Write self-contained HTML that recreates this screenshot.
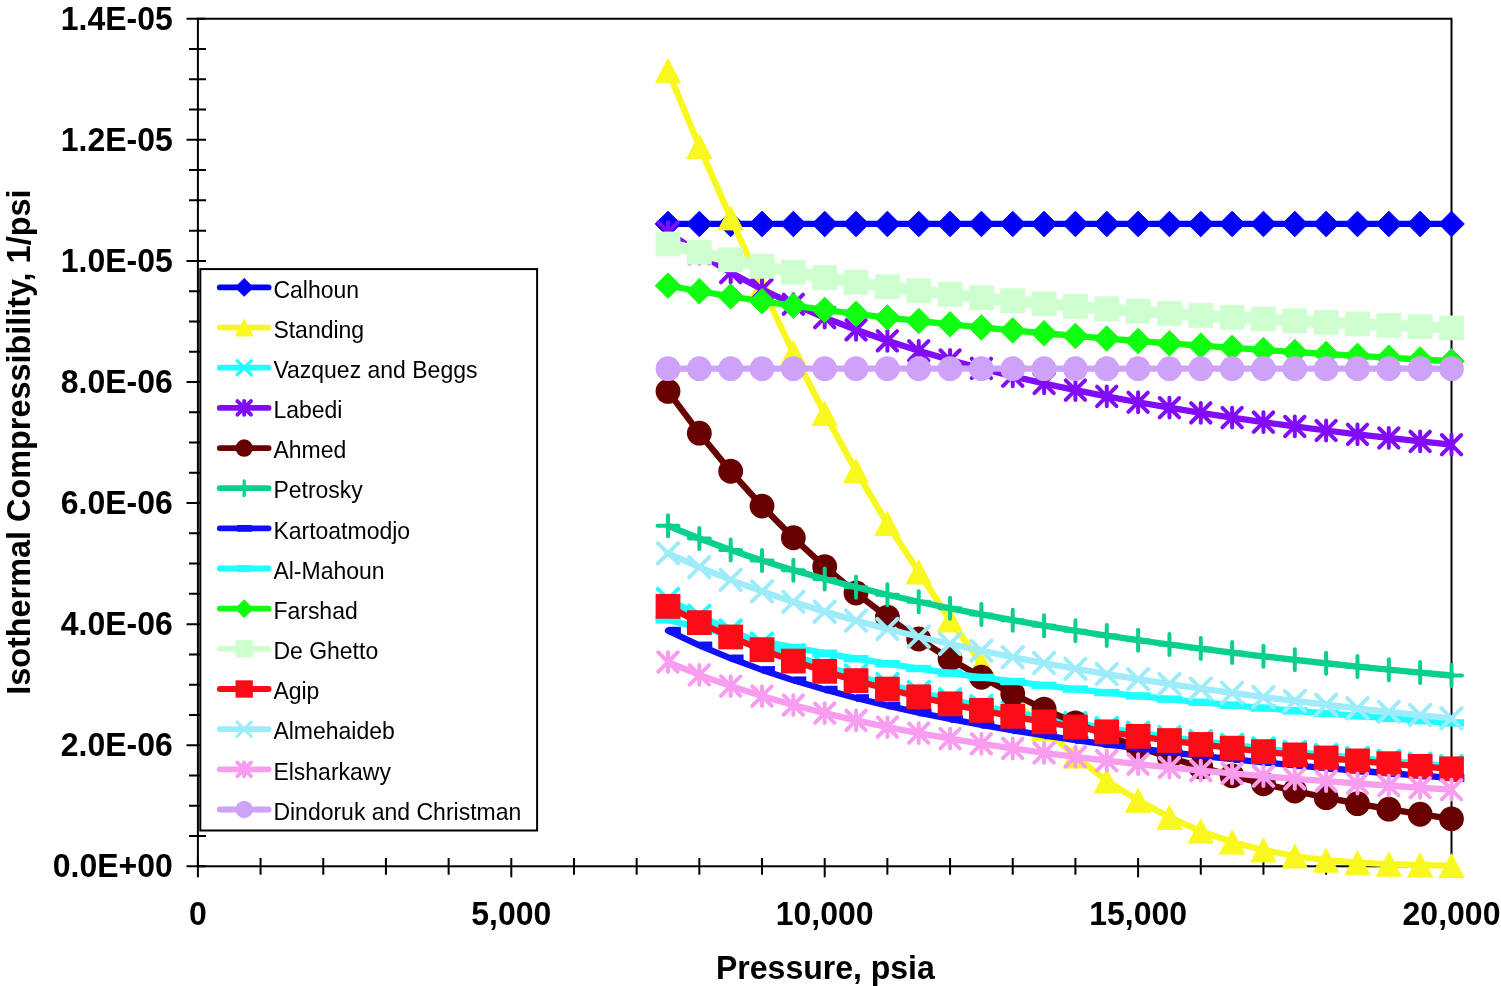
<!DOCTYPE html>
<html><head><meta charset="utf-8"><title>Isothermal Compressibility</title>
<style>
html,body{margin:0;padding:0;background:#fff;}
body{width:1501px;height:986px;overflow:hidden;}
svg{display:block;will-change:transform;}
.b{font-family:"Liberation Sans",sans-serif;font-weight:bold;font-size:32px;fill:#000;}
.r{font-family:"Liberation Sans",sans-serif;font-size:23px;fill:#000;}
</style></head>
<body>
<svg width="1501" height="986" viewBox="0 0 1501 986">
<rect width="1501" height="986" fill="#fff"/>
<rect x="197.90" y="18.74" width="1253.60" height="847.56" fill="none" stroke="#000" stroke-width="2"/>
<path d="M186.5 866.30H206M189 836.03H206M189 805.76H206M189 775.49H206M186.5 745.22H206M189 714.95H206M189 684.68H206M189 654.41H206M186.5 624.14H206M189 593.87H206M189 563.60H206M189 533.33H206M186.5 503.06H206M189 472.79H206M189 442.52H206M189 412.25H206M186.5 381.98H206M189 351.71H206M189 321.44H206M189 291.17H206M186.5 260.90H206M189 230.63H206M189 200.36H206M189 170.09H206M186.5 139.82H206M189 109.55H206M189 79.28H206M189 49.01H206M186.5 18.74H206M197.90 858V877.3M260.58 858V874.7M323.26 858V874.7M385.94 858V874.7M448.62 858V874.7M511.30 858V877.3M573.98 858V874.7M636.66 858V874.7M699.34 858V874.7M762.02 858V874.7M824.70 858V877.3M887.38 858V874.7M950.06 858V874.7M1012.74 858V874.7M1075.42 858V874.7M1138.10 858V877.3M1200.78 858V874.7M1263.46 858V874.7M1326.14 858V874.7M1388.82 858V874.7M1451.50 858V877.3" stroke="#000" stroke-width="2" fill="none"/>
<text transform="translate(172.8 877.30) scale(1 1.062)" text-anchor="end" class="b">0.0E+00</text>
<text transform="translate(172.8 756.22) scale(1 1.062)" text-anchor="end" class="b">2.0E-06</text>
<text transform="translate(172.8 635.14) scale(1 1.062)" text-anchor="end" class="b">4.0E-06</text>
<text transform="translate(172.8 514.06) scale(1 1.062)" text-anchor="end" class="b">6.0E-06</text>
<text transform="translate(172.8 392.98) scale(1 1.062)" text-anchor="end" class="b">8.0E-06</text>
<text transform="translate(172.8 271.90) scale(1 1.062)" text-anchor="end" class="b">1.0E-05</text>
<text transform="translate(172.8 150.82) scale(1 1.062)" text-anchor="end" class="b">1.2E-05</text>
<text transform="translate(172.8 29.74) scale(1 1.062)" text-anchor="end" class="b">1.4E-05</text>
<text transform="translate(197.90 924.9) scale(1 1.062)" text-anchor="middle" class="b">0</text>
<text transform="translate(511.30 924.9) scale(1 1.062)" text-anchor="middle" class="b">5,000</text>
<text transform="translate(824.70 924.9) scale(1 1.062)" text-anchor="middle" class="b">10,000</text>
<text transform="translate(1138.10 924.9) scale(1 1.062)" text-anchor="middle" class="b">15,000</text>
<text transform="translate(1451.50 924.9) scale(1 1.062)" text-anchor="middle" class="b">20,000</text>
<text transform="translate(825.4 979.4) scale(1 1.062)" text-anchor="middle" class="b">Pressure, psia</text>
<text transform="translate(29.6 442.2) rotate(-90) scale(1.013 1.062)" x="0" y="0" text-anchor="middle" class="b">Isothermal Compressibility, 1/psi</text>
<polyline points="668.00,223.97 699.34,223.97 730.68,223.97 762.02,223.97 793.36,223.97 824.70,223.97 856.04,223.97 887.38,223.97 918.72,223.97 950.06,223.97 981.40,223.97 1012.74,223.97 1044.08,223.97 1075.42,223.97 1106.76,223.97 1138.10,223.97 1169.44,223.97 1200.78,223.97 1232.12,223.97 1263.46,223.97 1294.80,223.97 1326.14,223.97 1357.48,223.97 1388.82,223.97 1420.16,223.97 1451.50,223.97" fill="none" stroke="#0000F8" stroke-width="6.3" stroke-linejoin="round" stroke-linecap="round"/>
<path d="M668.00 211.17L680.80 223.97L668.00 236.77L655.20 223.97Z" fill="#0000F8" stroke="#0000F8" stroke-width="1" stroke-linejoin="round"/>
<path d="M699.34 211.17L712.14 223.97L699.34 236.77L686.54 223.97Z" fill="#0000F8" stroke="#0000F8" stroke-width="1" stroke-linejoin="round"/>
<path d="M730.68 211.17L743.48 223.97L730.68 236.77L717.88 223.97Z" fill="#0000F8" stroke="#0000F8" stroke-width="1" stroke-linejoin="round"/>
<path d="M762.02 211.17L774.82 223.97L762.02 236.77L749.22 223.97Z" fill="#0000F8" stroke="#0000F8" stroke-width="1" stroke-linejoin="round"/>
<path d="M793.36 211.17L806.16 223.97L793.36 236.77L780.56 223.97Z" fill="#0000F8" stroke="#0000F8" stroke-width="1" stroke-linejoin="round"/>
<path d="M824.70 211.17L837.50 223.97L824.70 236.77L811.90 223.97Z" fill="#0000F8" stroke="#0000F8" stroke-width="1" stroke-linejoin="round"/>
<path d="M856.04 211.17L868.84 223.97L856.04 236.77L843.24 223.97Z" fill="#0000F8" stroke="#0000F8" stroke-width="1" stroke-linejoin="round"/>
<path d="M887.38 211.17L900.18 223.97L887.38 236.77L874.58 223.97Z" fill="#0000F8" stroke="#0000F8" stroke-width="1" stroke-linejoin="round"/>
<path d="M918.72 211.17L931.52 223.97L918.72 236.77L905.92 223.97Z" fill="#0000F8" stroke="#0000F8" stroke-width="1" stroke-linejoin="round"/>
<path d="M950.06 211.17L962.86 223.97L950.06 236.77L937.26 223.97Z" fill="#0000F8" stroke="#0000F8" stroke-width="1" stroke-linejoin="round"/>
<path d="M981.40 211.17L994.20 223.97L981.40 236.77L968.60 223.97Z" fill="#0000F8" stroke="#0000F8" stroke-width="1" stroke-linejoin="round"/>
<path d="M1012.74 211.17L1025.54 223.97L1012.74 236.77L999.94 223.97Z" fill="#0000F8" stroke="#0000F8" stroke-width="1" stroke-linejoin="round"/>
<path d="M1044.08 211.17L1056.88 223.97L1044.08 236.77L1031.28 223.97Z" fill="#0000F8" stroke="#0000F8" stroke-width="1" stroke-linejoin="round"/>
<path d="M1075.42 211.17L1088.22 223.97L1075.42 236.77L1062.62 223.97Z" fill="#0000F8" stroke="#0000F8" stroke-width="1" stroke-linejoin="round"/>
<path d="M1106.76 211.17L1119.56 223.97L1106.76 236.77L1093.96 223.97Z" fill="#0000F8" stroke="#0000F8" stroke-width="1" stroke-linejoin="round"/>
<path d="M1138.10 211.17L1150.90 223.97L1138.10 236.77L1125.30 223.97Z" fill="#0000F8" stroke="#0000F8" stroke-width="1" stroke-linejoin="round"/>
<path d="M1169.44 211.17L1182.24 223.97L1169.44 236.77L1156.64 223.97Z" fill="#0000F8" stroke="#0000F8" stroke-width="1" stroke-linejoin="round"/>
<path d="M1200.78 211.17L1213.58 223.97L1200.78 236.77L1187.98 223.97Z" fill="#0000F8" stroke="#0000F8" stroke-width="1" stroke-linejoin="round"/>
<path d="M1232.12 211.17L1244.92 223.97L1232.12 236.77L1219.32 223.97Z" fill="#0000F8" stroke="#0000F8" stroke-width="1" stroke-linejoin="round"/>
<path d="M1263.46 211.17L1276.26 223.97L1263.46 236.77L1250.66 223.97Z" fill="#0000F8" stroke="#0000F8" stroke-width="1" stroke-linejoin="round"/>
<path d="M1294.80 211.17L1307.60 223.97L1294.80 236.77L1282.00 223.97Z" fill="#0000F8" stroke="#0000F8" stroke-width="1" stroke-linejoin="round"/>
<path d="M1326.14 211.17L1338.94 223.97L1326.14 236.77L1313.34 223.97Z" fill="#0000F8" stroke="#0000F8" stroke-width="1" stroke-linejoin="round"/>
<path d="M1357.48 211.17L1370.28 223.97L1357.48 236.77L1344.68 223.97Z" fill="#0000F8" stroke="#0000F8" stroke-width="1" stroke-linejoin="round"/>
<path d="M1388.82 211.17L1401.62 223.97L1388.82 236.77L1376.02 223.97Z" fill="#0000F8" stroke="#0000F8" stroke-width="1" stroke-linejoin="round"/>
<path d="M1420.16 211.17L1432.96 223.97L1420.16 236.77L1407.36 223.97Z" fill="#0000F8" stroke="#0000F8" stroke-width="1" stroke-linejoin="round"/>
<path d="M1451.50 211.17L1464.30 223.97L1451.50 236.77L1438.70 223.97Z" fill="#0000F8" stroke="#0000F8" stroke-width="1" stroke-linejoin="round"/>
<polyline points="668.00,70.80 699.34,146.48 730.68,217.92 762.02,286.93 793.36,352.92 824.70,413.46 856.04,470.97 887.38,523.64 918.72,572.08 950.06,619.90 981.40,664.10 1012.74,699.21 1044.08,728.87 1075.42,756.12 1106.76,780.94 1138.10,800.31 1169.44,817.26 1200.78,831.19 1232.12,842.08 1263.46,849.95 1294.80,856.01 1326.14,860.25 1357.48,862.67 1388.82,864.18 1420.16,865.09 1451.50,865.69" fill="none" stroke="#F8F81E" stroke-width="6.3" stroke-linejoin="round" stroke-linecap="round"/>
<path d="M668.00 58.80L680.50 82.80L655.50 82.80Z" fill="#F8F81E" stroke="#F8F81E" stroke-width="1" stroke-linejoin="round"/>
<path d="M699.34 134.48L711.84 158.48L686.84 158.48Z" fill="#F8F81E" stroke="#F8F81E" stroke-width="1" stroke-linejoin="round"/>
<path d="M730.68 205.92L743.18 229.92L718.18 229.92Z" fill="#F8F81E" stroke="#F8F81E" stroke-width="1" stroke-linejoin="round"/>
<path d="M762.02 274.93L774.52 298.93L749.52 298.93Z" fill="#F8F81E" stroke="#F8F81E" stroke-width="1" stroke-linejoin="round"/>
<path d="M793.36 340.92L805.86 364.92L780.86 364.92Z" fill="#F8F81E" stroke="#F8F81E" stroke-width="1" stroke-linejoin="round"/>
<path d="M824.70 401.46L837.20 425.46L812.20 425.46Z" fill="#F8F81E" stroke="#F8F81E" stroke-width="1" stroke-linejoin="round"/>
<path d="M856.04 458.97L868.54 482.97L843.54 482.97Z" fill="#F8F81E" stroke="#F8F81E" stroke-width="1" stroke-linejoin="round"/>
<path d="M887.38 511.64L899.88 535.64L874.88 535.64Z" fill="#F8F81E" stroke="#F8F81E" stroke-width="1" stroke-linejoin="round"/>
<path d="M918.72 560.08L931.22 584.08L906.22 584.08Z" fill="#F8F81E" stroke="#F8F81E" stroke-width="1" stroke-linejoin="round"/>
<path d="M950.06 607.90L962.56 631.90L937.56 631.90Z" fill="#F8F81E" stroke="#F8F81E" stroke-width="1" stroke-linejoin="round"/>
<path d="M981.40 652.10L993.90 676.10L968.90 676.10Z" fill="#F8F81E" stroke="#F8F81E" stroke-width="1" stroke-linejoin="round"/>
<path d="M1012.74 687.21L1025.24 711.21L1000.24 711.21Z" fill="#F8F81E" stroke="#F8F81E" stroke-width="1" stroke-linejoin="round"/>
<path d="M1044.08 716.87L1056.58 740.87L1031.58 740.87Z" fill="#F8F81E" stroke="#F8F81E" stroke-width="1" stroke-linejoin="round"/>
<path d="M1075.42 744.12L1087.92 768.12L1062.92 768.12Z" fill="#F8F81E" stroke="#F8F81E" stroke-width="1" stroke-linejoin="round"/>
<path d="M1106.76 768.94L1119.26 792.94L1094.26 792.94Z" fill="#F8F81E" stroke="#F8F81E" stroke-width="1" stroke-linejoin="round"/>
<path d="M1138.10 788.31L1150.60 812.31L1125.60 812.31Z" fill="#F8F81E" stroke="#F8F81E" stroke-width="1" stroke-linejoin="round"/>
<path d="M1169.44 805.26L1181.94 829.26L1156.94 829.26Z" fill="#F8F81E" stroke="#F8F81E" stroke-width="1" stroke-linejoin="round"/>
<path d="M1200.78 819.19L1213.28 843.19L1188.28 843.19Z" fill="#F8F81E" stroke="#F8F81E" stroke-width="1" stroke-linejoin="round"/>
<path d="M1232.12 830.08L1244.62 854.08L1219.62 854.08Z" fill="#F8F81E" stroke="#F8F81E" stroke-width="1" stroke-linejoin="round"/>
<path d="M1263.46 837.95L1275.96 861.95L1250.96 861.95Z" fill="#F8F81E" stroke="#F8F81E" stroke-width="1" stroke-linejoin="round"/>
<path d="M1294.80 844.01L1307.30 868.01L1282.30 868.01Z" fill="#F8F81E" stroke="#F8F81E" stroke-width="1" stroke-linejoin="round"/>
<path d="M1326.14 848.25L1338.64 872.25L1313.64 872.25Z" fill="#F8F81E" stroke="#F8F81E" stroke-width="1" stroke-linejoin="round"/>
<path d="M1357.48 850.67L1369.98 874.67L1344.98 874.67Z" fill="#F8F81E" stroke="#F8F81E" stroke-width="1" stroke-linejoin="round"/>
<path d="M1388.82 852.18L1401.32 876.18L1376.32 876.18Z" fill="#F8F81E" stroke="#F8F81E" stroke-width="1" stroke-linejoin="round"/>
<path d="M1420.16 853.09L1432.66 877.09L1407.66 877.09Z" fill="#F8F81E" stroke="#F8F81E" stroke-width="1" stroke-linejoin="round"/>
<path d="M1451.50 853.69L1464.00 877.69L1439.00 877.69Z" fill="#F8F81E" stroke="#F8F81E" stroke-width="1" stroke-linejoin="round"/>
<polyline points="668.00,599.12 699.34,615.82 730.68,630.55 762.02,643.65 793.36,655.37 824.70,665.91 856.04,675.45 887.38,684.13 918.72,692.05 950.06,699.31 981.40,705.99 1012.74,712.16 1044.08,717.86 1075.42,723.17 1106.76,728.10 1138.10,732.71 1169.44,737.02 1200.78,741.06 1232.12,744.85 1263.46,748.43 1294.80,751.79 1326.14,754.97 1357.48,757.98 1388.82,760.83 1420.16,763.54 1451.50,766.11" fill="none" stroke="#1EFFFF" stroke-width="6.3" stroke-linejoin="round" stroke-linecap="round"/>
<path d="M657.80 588.92L678.20 609.32M678.20 588.92L657.80 609.32" stroke="#1EFFFF" stroke-width="4.00" stroke-linecap="round" fill="none"/>
<path d="M689.14 605.62L709.54 626.02M709.54 605.62L689.14 626.02" stroke="#1EFFFF" stroke-width="4.00" stroke-linecap="round" fill="none"/>
<path d="M720.48 620.35L740.88 640.75M740.88 620.35L720.48 640.75" stroke="#1EFFFF" stroke-width="4.00" stroke-linecap="round" fill="none"/>
<path d="M751.82 633.45L772.22 653.85M772.22 633.45L751.82 653.85" stroke="#1EFFFF" stroke-width="4.00" stroke-linecap="round" fill="none"/>
<path d="M783.16 645.17L803.56 665.57M803.56 645.17L783.16 665.57" stroke="#1EFFFF" stroke-width="4.00" stroke-linecap="round" fill="none"/>
<path d="M814.50 655.71L834.90 676.11M834.90 655.71L814.50 676.11" stroke="#1EFFFF" stroke-width="4.00" stroke-linecap="round" fill="none"/>
<path d="M845.84 665.25L866.24 685.65M866.24 665.25L845.84 685.65" stroke="#1EFFFF" stroke-width="4.00" stroke-linecap="round" fill="none"/>
<path d="M877.18 673.93L897.58 694.33M897.58 673.93L877.18 694.33" stroke="#1EFFFF" stroke-width="4.00" stroke-linecap="round" fill="none"/>
<path d="M908.52 681.85L928.92 702.25M928.92 681.85L908.52 702.25" stroke="#1EFFFF" stroke-width="4.00" stroke-linecap="round" fill="none"/>
<path d="M939.86 689.11L960.26 709.51M960.26 689.11L939.86 709.51" stroke="#1EFFFF" stroke-width="4.00" stroke-linecap="round" fill="none"/>
<path d="M971.20 695.79L991.60 716.19M991.60 695.79L971.20 716.19" stroke="#1EFFFF" stroke-width="4.00" stroke-linecap="round" fill="none"/>
<path d="M1002.54 701.96L1022.94 722.36M1022.94 701.96L1002.54 722.36" stroke="#1EFFFF" stroke-width="4.00" stroke-linecap="round" fill="none"/>
<path d="M1033.88 707.66L1054.28 728.06M1054.28 707.66L1033.88 728.06" stroke="#1EFFFF" stroke-width="4.00" stroke-linecap="round" fill="none"/>
<path d="M1065.22 712.97L1085.62 733.37M1085.62 712.97L1065.22 733.37" stroke="#1EFFFF" stroke-width="4.00" stroke-linecap="round" fill="none"/>
<path d="M1096.56 717.90L1116.96 738.30M1116.96 717.90L1096.56 738.30" stroke="#1EFFFF" stroke-width="4.00" stroke-linecap="round" fill="none"/>
<path d="M1127.90 722.51L1148.30 742.91M1148.30 722.51L1127.90 742.91" stroke="#1EFFFF" stroke-width="4.00" stroke-linecap="round" fill="none"/>
<path d="M1159.24 726.82L1179.64 747.22M1179.64 726.82L1159.24 747.22" stroke="#1EFFFF" stroke-width="4.00" stroke-linecap="round" fill="none"/>
<path d="M1190.58 730.86L1210.98 751.26M1210.98 730.86L1190.58 751.26" stroke="#1EFFFF" stroke-width="4.00" stroke-linecap="round" fill="none"/>
<path d="M1221.92 734.65L1242.32 755.05M1242.32 734.65L1221.92 755.05" stroke="#1EFFFF" stroke-width="4.00" stroke-linecap="round" fill="none"/>
<path d="M1253.26 738.23L1273.66 758.63M1273.66 738.23L1253.26 758.63" stroke="#1EFFFF" stroke-width="4.00" stroke-linecap="round" fill="none"/>
<path d="M1284.60 741.59L1305.00 761.99M1305.00 741.59L1284.60 761.99" stroke="#1EFFFF" stroke-width="4.00" stroke-linecap="round" fill="none"/>
<path d="M1315.94 744.77L1336.34 765.17M1336.34 744.77L1315.94 765.17" stroke="#1EFFFF" stroke-width="4.00" stroke-linecap="round" fill="none"/>
<path d="M1347.28 747.78L1367.68 768.18M1367.68 747.78L1347.28 768.18" stroke="#1EFFFF" stroke-width="4.00" stroke-linecap="round" fill="none"/>
<path d="M1378.62 750.63L1399.02 771.03M1399.02 750.63L1378.62 771.03" stroke="#1EFFFF" stroke-width="4.00" stroke-linecap="round" fill="none"/>
<path d="M1409.96 753.34L1430.36 773.74M1430.36 753.34L1409.96 773.74" stroke="#1EFFFF" stroke-width="4.00" stroke-linecap="round" fill="none"/>
<path d="M1441.30 755.91L1461.70 776.31M1461.70 755.91L1441.30 776.31" stroke="#1EFFFF" stroke-width="4.00" stroke-linecap="round" fill="none"/>
<polyline points="668.00,232.15 699.34,253.67 730.68,272.57 762.02,289.31 793.36,304.25 824.70,317.66 856.04,329.77 887.38,340.77 918.72,350.80 950.06,359.98 981.40,368.43 1012.74,376.23 1044.08,383.45 1075.42,390.16 1106.76,396.40 1138.10,402.24 1169.44,407.70 1200.78,412.82 1232.12,417.64 1263.46,422.17 1294.80,426.45 1326.14,430.50 1357.48,434.34 1388.82,437.97 1420.16,441.43 1451.50,444.71" fill="none" stroke="#820CFA" stroke-width="6.3" stroke-linejoin="round" stroke-linecap="round"/>
<path d="M658.30 222.45L677.70 241.85M677.70 222.45L658.30 241.85M668.00 222.25L668.00 242.05" stroke="#820CFA" stroke-width="4.00" stroke-linecap="round" fill="none"/>
<path d="M689.64 243.97L709.04 263.37M709.04 243.97L689.64 263.37M699.34 243.77L699.34 263.57" stroke="#820CFA" stroke-width="4.00" stroke-linecap="round" fill="none"/>
<path d="M720.98 262.87L740.38 282.27M740.38 262.87L720.98 282.27M730.68 262.67L730.68 282.47" stroke="#820CFA" stroke-width="4.00" stroke-linecap="round" fill="none"/>
<path d="M752.32 279.61L771.72 299.01M771.72 279.61L752.32 299.01M762.02 279.41L762.02 299.21" stroke="#820CFA" stroke-width="4.00" stroke-linecap="round" fill="none"/>
<path d="M783.66 294.55L803.06 313.95M803.06 294.55L783.66 313.95M793.36 294.35L793.36 314.15" stroke="#820CFA" stroke-width="4.00" stroke-linecap="round" fill="none"/>
<path d="M815.00 307.96L834.40 327.36M834.40 307.96L815.00 327.36M824.70 307.76L824.70 327.56" stroke="#820CFA" stroke-width="4.00" stroke-linecap="round" fill="none"/>
<path d="M846.34 320.07L865.74 339.47M865.74 320.07L846.34 339.47M856.04 319.87L856.04 339.67" stroke="#820CFA" stroke-width="4.00" stroke-linecap="round" fill="none"/>
<path d="M877.68 331.07L897.08 350.47M897.08 331.07L877.68 350.47M887.38 330.87L887.38 350.67" stroke="#820CFA" stroke-width="4.00" stroke-linecap="round" fill="none"/>
<path d="M909.02 341.10L928.42 360.50M928.42 341.10L909.02 360.50M918.72 340.90L918.72 360.70" stroke="#820CFA" stroke-width="4.00" stroke-linecap="round" fill="none"/>
<path d="M940.36 350.28L959.76 369.68M959.76 350.28L940.36 369.68M950.06 350.08L950.06 369.88" stroke="#820CFA" stroke-width="4.00" stroke-linecap="round" fill="none"/>
<path d="M971.70 358.73L991.10 378.13M991.10 358.73L971.70 378.13M981.40 358.53L981.40 378.33" stroke="#820CFA" stroke-width="4.00" stroke-linecap="round" fill="none"/>
<path d="M1003.04 366.53L1022.44 385.93M1022.44 366.53L1003.04 385.93M1012.74 366.33L1012.74 386.13" stroke="#820CFA" stroke-width="4.00" stroke-linecap="round" fill="none"/>
<path d="M1034.38 373.75L1053.78 393.15M1053.78 373.75L1034.38 393.15M1044.08 373.55L1044.08 393.35" stroke="#820CFA" stroke-width="4.00" stroke-linecap="round" fill="none"/>
<path d="M1065.72 380.46L1085.12 399.86M1085.12 380.46L1065.72 399.86M1075.42 380.26L1075.42 400.06" stroke="#820CFA" stroke-width="4.00" stroke-linecap="round" fill="none"/>
<path d="M1097.06 386.70L1116.46 406.10M1116.46 386.70L1097.06 406.10M1106.76 386.50L1106.76 406.30" stroke="#820CFA" stroke-width="4.00" stroke-linecap="round" fill="none"/>
<path d="M1128.40 392.54L1147.80 411.94M1147.80 392.54L1128.40 411.94M1138.10 392.34L1138.10 412.14" stroke="#820CFA" stroke-width="4.00" stroke-linecap="round" fill="none"/>
<path d="M1159.74 398.00L1179.14 417.40M1179.14 398.00L1159.74 417.40M1169.44 397.80L1169.44 417.60" stroke="#820CFA" stroke-width="4.00" stroke-linecap="round" fill="none"/>
<path d="M1191.08 403.12L1210.48 422.52M1210.48 403.12L1191.08 422.52M1200.78 402.92L1200.78 422.72" stroke="#820CFA" stroke-width="4.00" stroke-linecap="round" fill="none"/>
<path d="M1222.42 407.94L1241.82 427.34M1241.82 407.94L1222.42 427.34M1232.12 407.74L1232.12 427.54" stroke="#820CFA" stroke-width="4.00" stroke-linecap="round" fill="none"/>
<path d="M1253.76 412.47L1273.16 431.87M1273.16 412.47L1253.76 431.87M1263.46 412.27L1263.46 432.07" stroke="#820CFA" stroke-width="4.00" stroke-linecap="round" fill="none"/>
<path d="M1285.10 416.75L1304.50 436.15M1304.50 416.75L1285.10 436.15M1294.80 416.55L1294.80 436.35" stroke="#820CFA" stroke-width="4.00" stroke-linecap="round" fill="none"/>
<path d="M1316.44 420.80L1335.84 440.20M1335.84 420.80L1316.44 440.20M1326.14 420.60L1326.14 440.40" stroke="#820CFA" stroke-width="4.00" stroke-linecap="round" fill="none"/>
<path d="M1347.78 424.64L1367.18 444.04M1367.18 424.64L1347.78 444.04M1357.48 424.44L1357.48 444.24" stroke="#820CFA" stroke-width="4.00" stroke-linecap="round" fill="none"/>
<path d="M1379.12 428.27L1398.52 447.67M1398.52 428.27L1379.12 447.67M1388.82 428.07L1388.82 447.87" stroke="#820CFA" stroke-width="4.00" stroke-linecap="round" fill="none"/>
<path d="M1410.46 431.73L1429.86 451.13M1429.86 431.73L1410.46 451.13M1420.16 431.53L1420.16 451.33" stroke="#820CFA" stroke-width="4.00" stroke-linecap="round" fill="none"/>
<path d="M1441.80 435.01L1461.20 454.41M1461.20 435.01L1441.80 454.41M1451.50 434.81L1451.50 454.61" stroke="#820CFA" stroke-width="4.00" stroke-linecap="round" fill="none"/>
<polyline points="668.00,391.36 699.34,433.15 730.68,471.27 762.02,506.03 793.36,537.73 824.70,566.64 856.04,593.01 887.38,617.05 918.72,638.98 950.06,658.99 981.40,677.23 1012.74,693.86 1044.08,709.04 1075.42,722.87 1106.76,735.49 1138.10,747.00 1169.44,757.50 1200.78,767.07 1232.12,775.81 1263.46,783.77 1294.80,791.03 1326.14,797.65 1357.48,803.69 1388.82,809.20 1420.16,814.23 1451.50,818.81" fill="none" stroke="#680000" stroke-width="6.3" stroke-linejoin="round" stroke-linecap="round"/>
<circle cx="668.00" cy="391.36" r="12.40" fill="#680000"/>
<circle cx="699.34" cy="433.15" r="12.40" fill="#680000"/>
<circle cx="730.68" cy="471.27" r="12.40" fill="#680000"/>
<circle cx="762.02" cy="506.03" r="12.40" fill="#680000"/>
<circle cx="793.36" cy="537.73" r="12.40" fill="#680000"/>
<circle cx="824.70" cy="566.64" r="12.40" fill="#680000"/>
<circle cx="856.04" cy="593.01" r="12.40" fill="#680000"/>
<circle cx="887.38" cy="617.05" r="12.40" fill="#680000"/>
<circle cx="918.72" cy="638.98" r="12.40" fill="#680000"/>
<circle cx="950.06" cy="658.99" r="12.40" fill="#680000"/>
<circle cx="981.40" cy="677.23" r="12.40" fill="#680000"/>
<circle cx="1012.74" cy="693.86" r="12.40" fill="#680000"/>
<circle cx="1044.08" cy="709.04" r="12.40" fill="#680000"/>
<circle cx="1075.42" cy="722.87" r="12.40" fill="#680000"/>
<circle cx="1106.76" cy="735.49" r="12.40" fill="#680000"/>
<circle cx="1138.10" cy="747.00" r="12.40" fill="#680000"/>
<circle cx="1169.44" cy="757.50" r="12.40" fill="#680000"/>
<circle cx="1200.78" cy="767.07" r="12.40" fill="#680000"/>
<circle cx="1232.12" cy="775.81" r="12.40" fill="#680000"/>
<circle cx="1263.46" cy="783.77" r="12.40" fill="#680000"/>
<circle cx="1294.80" cy="791.03" r="12.40" fill="#680000"/>
<circle cx="1326.14" cy="797.65" r="12.40" fill="#680000"/>
<circle cx="1357.48" cy="803.69" r="12.40" fill="#680000"/>
<circle cx="1388.82" cy="809.20" r="12.40" fill="#680000"/>
<circle cx="1420.16" cy="814.23" r="12.40" fill="#680000"/>
<circle cx="1451.50" cy="818.81" r="12.40" fill="#680000"/>
<polyline points="668.00,525.76 699.34,538.50 730.68,550.03 762.02,560.53 793.36,570.14 824.70,578.97 856.04,587.13 887.38,594.70 918.72,601.74 950.06,608.30 981.40,614.45 1012.74,620.22 1044.08,625.64 1075.42,630.76 1106.76,635.59 1138.10,640.16 1169.44,644.50 1200.78,648.62 1232.12,652.54 1263.46,656.27 1294.80,659.84 1326.14,663.25 1357.48,666.51 1388.82,669.63 1420.16,672.62 1451.50,675.50" fill="none" stroke="#0ACF8E" stroke-width="6.3" stroke-linejoin="round" stroke-linecap="round"/>
<path d="M668.00 515.26L668.00 536.26M657.50 525.76L678.50 525.76" stroke="#0ACF8E" stroke-width="4.00" stroke-linecap="round" fill="none"/>
<path d="M699.34 528.00L699.34 549.00M688.84 538.50L709.84 538.50" stroke="#0ACF8E" stroke-width="4.00" stroke-linecap="round" fill="none"/>
<path d="M730.68 539.53L730.68 560.53M720.18 550.03L741.18 550.03" stroke="#0ACF8E" stroke-width="4.00" stroke-linecap="round" fill="none"/>
<path d="M762.02 550.03L762.02 571.03M751.52 560.53L772.52 560.53" stroke="#0ACF8E" stroke-width="4.00" stroke-linecap="round" fill="none"/>
<path d="M793.36 559.64L793.36 580.64M782.86 570.14L803.86 570.14" stroke="#0ACF8E" stroke-width="4.00" stroke-linecap="round" fill="none"/>
<path d="M824.70 568.47L824.70 589.47M814.20 578.97L835.20 578.97" stroke="#0ACF8E" stroke-width="4.00" stroke-linecap="round" fill="none"/>
<path d="M856.04 576.63L856.04 597.63M845.54 587.13L866.54 587.13" stroke="#0ACF8E" stroke-width="4.00" stroke-linecap="round" fill="none"/>
<path d="M887.38 584.20L887.38 605.20M876.88 594.70L897.88 594.70" stroke="#0ACF8E" stroke-width="4.00" stroke-linecap="round" fill="none"/>
<path d="M918.72 591.24L918.72 612.24M908.22 601.74L929.22 601.74" stroke="#0ACF8E" stroke-width="4.00" stroke-linecap="round" fill="none"/>
<path d="M950.06 597.80L950.06 618.80M939.56 608.30L960.56 608.30" stroke="#0ACF8E" stroke-width="4.00" stroke-linecap="round" fill="none"/>
<path d="M981.40 603.95L981.40 624.95M970.90 614.45L991.90 614.45" stroke="#0ACF8E" stroke-width="4.00" stroke-linecap="round" fill="none"/>
<path d="M1012.74 609.72L1012.74 630.72M1002.24 620.22L1023.24 620.22" stroke="#0ACF8E" stroke-width="4.00" stroke-linecap="round" fill="none"/>
<path d="M1044.08 615.14L1044.08 636.14M1033.58 625.64L1054.58 625.64" stroke="#0ACF8E" stroke-width="4.00" stroke-linecap="round" fill="none"/>
<path d="M1075.42 620.26L1075.42 641.26M1064.92 630.76L1085.92 630.76" stroke="#0ACF8E" stroke-width="4.00" stroke-linecap="round" fill="none"/>
<path d="M1106.76 625.09L1106.76 646.09M1096.26 635.59L1117.26 635.59" stroke="#0ACF8E" stroke-width="4.00" stroke-linecap="round" fill="none"/>
<path d="M1138.10 629.66L1138.10 650.66M1127.60 640.16L1148.60 640.16" stroke="#0ACF8E" stroke-width="4.00" stroke-linecap="round" fill="none"/>
<path d="M1169.44 634.00L1169.44 655.00M1158.94 644.50L1179.94 644.50" stroke="#0ACF8E" stroke-width="4.00" stroke-linecap="round" fill="none"/>
<path d="M1200.78 638.12L1200.78 659.12M1190.28 648.62L1211.28 648.62" stroke="#0ACF8E" stroke-width="4.00" stroke-linecap="round" fill="none"/>
<path d="M1232.12 642.04L1232.12 663.04M1221.62 652.54L1242.62 652.54" stroke="#0ACF8E" stroke-width="4.00" stroke-linecap="round" fill="none"/>
<path d="M1263.46 645.77L1263.46 666.77M1252.96 656.27L1273.96 656.27" stroke="#0ACF8E" stroke-width="4.00" stroke-linecap="round" fill="none"/>
<path d="M1294.80 649.34L1294.80 670.34M1284.30 659.84L1305.30 659.84" stroke="#0ACF8E" stroke-width="4.00" stroke-linecap="round" fill="none"/>
<path d="M1326.14 652.75L1326.14 673.75M1315.64 663.25L1336.64 663.25" stroke="#0ACF8E" stroke-width="4.00" stroke-linecap="round" fill="none"/>
<path d="M1357.48 656.01L1357.48 677.01M1346.98 666.51L1367.98 666.51" stroke="#0ACF8E" stroke-width="4.00" stroke-linecap="round" fill="none"/>
<path d="M1388.82 659.13L1388.82 680.13M1378.32 669.63L1399.32 669.63" stroke="#0ACF8E" stroke-width="4.00" stroke-linecap="round" fill="none"/>
<path d="M1420.16 662.12L1420.16 683.12M1409.66 672.62L1430.66 672.62" stroke="#0ACF8E" stroke-width="4.00" stroke-linecap="round" fill="none"/>
<path d="M1451.50 665.00L1451.50 686.00M1441.00 675.50L1462.00 675.50" stroke="#0ACF8E" stroke-width="4.00" stroke-linecap="round" fill="none"/>
<polyline points="668.00,630.60 699.34,645.33 730.68,658.33 762.02,669.88 793.36,680.22 824.70,689.52 856.04,697.94 887.38,705.59 918.72,712.58 950.06,718.99 981.40,724.88 1012.74,730.32 1044.08,735.35 1075.42,740.03 1106.76,744.38 1138.10,748.45 1169.44,752.25 1200.78,755.81 1232.12,759.16 1263.46,762.31 1294.80,765.28 1326.14,768.09 1357.48,770.74 1388.82,773.26 1420.16,775.65 1451.50,777.91" fill="none" stroke="#1010F8" stroke-width="6.3" stroke-linejoin="round" stroke-linecap="round"/>
<rect x="668.00" y="626.80" width="12.90" height="7.60" fill="#1010F8"/>
<rect x="699.34" y="641.53" width="12.90" height="7.60" fill="#1010F8"/>
<rect x="730.68" y="654.53" width="12.90" height="7.60" fill="#1010F8"/>
<rect x="762.02" y="666.08" width="12.90" height="7.60" fill="#1010F8"/>
<rect x="793.36" y="676.42" width="12.90" height="7.60" fill="#1010F8"/>
<rect x="824.70" y="685.72" width="12.90" height="7.60" fill="#1010F8"/>
<rect x="856.04" y="694.14" width="12.90" height="7.60" fill="#1010F8"/>
<rect x="887.38" y="701.79" width="12.90" height="7.60" fill="#1010F8"/>
<rect x="918.72" y="708.78" width="12.90" height="7.60" fill="#1010F8"/>
<rect x="950.06" y="715.19" width="12.90" height="7.60" fill="#1010F8"/>
<rect x="981.40" y="721.08" width="12.90" height="7.60" fill="#1010F8"/>
<rect x="1012.74" y="726.52" width="12.90" height="7.60" fill="#1010F8"/>
<rect x="1044.08" y="731.55" width="12.90" height="7.60" fill="#1010F8"/>
<rect x="1075.42" y="736.23" width="12.90" height="7.60" fill="#1010F8"/>
<rect x="1106.76" y="740.58" width="12.90" height="7.60" fill="#1010F8"/>
<rect x="1138.10" y="744.65" width="12.90" height="7.60" fill="#1010F8"/>
<rect x="1169.44" y="748.45" width="12.90" height="7.60" fill="#1010F8"/>
<rect x="1200.78" y="752.01" width="12.90" height="7.60" fill="#1010F8"/>
<rect x="1232.12" y="755.36" width="12.90" height="7.60" fill="#1010F8"/>
<rect x="1263.46" y="758.51" width="12.90" height="7.60" fill="#1010F8"/>
<rect x="1294.80" y="761.48" width="12.90" height="7.60" fill="#1010F8"/>
<rect x="1326.14" y="764.29" width="12.90" height="7.60" fill="#1010F8"/>
<rect x="1357.48" y="766.94" width="12.90" height="7.60" fill="#1010F8"/>
<rect x="1388.82" y="769.46" width="12.90" height="7.60" fill="#1010F8"/>
<rect x="1420.16" y="771.85" width="12.90" height="7.60" fill="#1010F8"/>
<rect x="1451.50" y="774.11" width="12.90" height="7.60" fill="#1010F8"/>
<polyline points="668.00,619.93 699.34,627.59 730.68,634.69 762.02,641.29 793.36,647.45 824.70,653.22 856.04,658.64 887.38,663.73 918.72,668.54 950.06,673.09 981.40,677.39 1012.74,681.48 1044.08,685.36 1075.42,689.06 1106.76,692.59 1138.10,695.95 1169.44,699.17 1200.78,702.26 1232.12,705.21 1263.46,708.05 1294.80,710.77 1326.14,713.39 1357.48,715.91 1388.82,718.34 1420.16,720.68 1451.50,722.94" fill="none" stroke="#1EFFFF" stroke-width="6.3" stroke-linejoin="round" stroke-linecap="round"/>
<rect x="655.50" y="616.23" width="25.00" height="7.40" fill="#1EFFFF"/>
<rect x="686.84" y="623.89" width="25.00" height="7.40" fill="#1EFFFF"/>
<rect x="718.18" y="630.99" width="25.00" height="7.40" fill="#1EFFFF"/>
<rect x="749.52" y="637.59" width="25.00" height="7.40" fill="#1EFFFF"/>
<rect x="780.86" y="643.75" width="25.00" height="7.40" fill="#1EFFFF"/>
<rect x="812.20" y="649.52" width="25.00" height="7.40" fill="#1EFFFF"/>
<rect x="843.54" y="654.94" width="25.00" height="7.40" fill="#1EFFFF"/>
<rect x="874.88" y="660.03" width="25.00" height="7.40" fill="#1EFFFF"/>
<rect x="906.22" y="664.84" width="25.00" height="7.40" fill="#1EFFFF"/>
<rect x="937.56" y="669.39" width="25.00" height="7.40" fill="#1EFFFF"/>
<rect x="968.90" y="673.69" width="25.00" height="7.40" fill="#1EFFFF"/>
<rect x="1000.24" y="677.78" width="25.00" height="7.40" fill="#1EFFFF"/>
<rect x="1031.58" y="681.66" width="25.00" height="7.40" fill="#1EFFFF"/>
<rect x="1062.92" y="685.36" width="25.00" height="7.40" fill="#1EFFFF"/>
<rect x="1094.26" y="688.89" width="25.00" height="7.40" fill="#1EFFFF"/>
<rect x="1125.60" y="692.25" width="25.00" height="7.40" fill="#1EFFFF"/>
<rect x="1156.94" y="695.47" width="25.00" height="7.40" fill="#1EFFFF"/>
<rect x="1188.28" y="698.56" width="25.00" height="7.40" fill="#1EFFFF"/>
<rect x="1219.62" y="701.51" width="25.00" height="7.40" fill="#1EFFFF"/>
<rect x="1250.96" y="704.35" width="25.00" height="7.40" fill="#1EFFFF"/>
<rect x="1282.30" y="707.07" width="25.00" height="7.40" fill="#1EFFFF"/>
<rect x="1313.64" y="709.69" width="25.00" height="7.40" fill="#1EFFFF"/>
<rect x="1344.98" y="712.21" width="25.00" height="7.40" fill="#1EFFFF"/>
<rect x="1376.32" y="714.64" width="25.00" height="7.40" fill="#1EFFFF"/>
<rect x="1407.66" y="716.98" width="25.00" height="7.40" fill="#1EFFFF"/>
<rect x="1439.00" y="719.24" width="25.00" height="7.40" fill="#1EFFFF"/>
<polyline points="668.00,285.65 699.34,291.26 730.68,296.44 762.02,301.24 793.36,305.71 824.70,309.89 856.04,313.82 887.38,317.51 918.72,321.00 950.06,324.30 981.40,327.43 1012.74,330.40 1044.08,333.24 1075.42,335.95 1106.76,338.53 1138.10,341.01 1169.44,343.39 1200.78,345.67 1232.12,347.87 1263.46,349.98 1294.80,352.02 1326.14,353.99 1357.48,355.89 1388.82,357.73 1420.16,359.51 1451.50,361.24" fill="none" stroke="#10FF10" stroke-width="6.3" stroke-linejoin="round" stroke-linecap="round"/>
<path d="M668.00 272.85L680.80 285.65L668.00 298.45L655.20 285.65Z" fill="#10FF10" stroke="#10FF10" stroke-width="1" stroke-linejoin="round"/>
<path d="M699.34 278.46L712.14 291.26L699.34 304.06L686.54 291.26Z" fill="#10FF10" stroke="#10FF10" stroke-width="1" stroke-linejoin="round"/>
<path d="M730.68 283.64L743.48 296.44L730.68 309.24L717.88 296.44Z" fill="#10FF10" stroke="#10FF10" stroke-width="1" stroke-linejoin="round"/>
<path d="M762.02 288.44L774.82 301.24L762.02 314.04L749.22 301.24Z" fill="#10FF10" stroke="#10FF10" stroke-width="1" stroke-linejoin="round"/>
<path d="M793.36 292.91L806.16 305.71L793.36 318.51L780.56 305.71Z" fill="#10FF10" stroke="#10FF10" stroke-width="1" stroke-linejoin="round"/>
<path d="M824.70 297.09L837.50 309.89L824.70 322.69L811.90 309.89Z" fill="#10FF10" stroke="#10FF10" stroke-width="1" stroke-linejoin="round"/>
<path d="M856.04 301.02L868.84 313.82L856.04 326.62L843.24 313.82Z" fill="#10FF10" stroke="#10FF10" stroke-width="1" stroke-linejoin="round"/>
<path d="M887.38 304.71L900.18 317.51L887.38 330.31L874.58 317.51Z" fill="#10FF10" stroke="#10FF10" stroke-width="1" stroke-linejoin="round"/>
<path d="M918.72 308.20L931.52 321.00L918.72 333.80L905.92 321.00Z" fill="#10FF10" stroke="#10FF10" stroke-width="1" stroke-linejoin="round"/>
<path d="M950.06 311.50L962.86 324.30L950.06 337.10L937.26 324.30Z" fill="#10FF10" stroke="#10FF10" stroke-width="1" stroke-linejoin="round"/>
<path d="M981.40 314.63L994.20 327.43L981.40 340.23L968.60 327.43Z" fill="#10FF10" stroke="#10FF10" stroke-width="1" stroke-linejoin="round"/>
<path d="M1012.74 317.60L1025.54 330.40L1012.74 343.20L999.94 330.40Z" fill="#10FF10" stroke="#10FF10" stroke-width="1" stroke-linejoin="round"/>
<path d="M1044.08 320.44L1056.88 333.24L1044.08 346.04L1031.28 333.24Z" fill="#10FF10" stroke="#10FF10" stroke-width="1" stroke-linejoin="round"/>
<path d="M1075.42 323.15L1088.22 335.95L1075.42 348.75L1062.62 335.95Z" fill="#10FF10" stroke="#10FF10" stroke-width="1" stroke-linejoin="round"/>
<path d="M1106.76 325.73L1119.56 338.53L1106.76 351.33L1093.96 338.53Z" fill="#10FF10" stroke="#10FF10" stroke-width="1" stroke-linejoin="round"/>
<path d="M1138.10 328.21L1150.90 341.01L1138.10 353.81L1125.30 341.01Z" fill="#10FF10" stroke="#10FF10" stroke-width="1" stroke-linejoin="round"/>
<path d="M1169.44 330.59L1182.24 343.39L1169.44 356.19L1156.64 343.39Z" fill="#10FF10" stroke="#10FF10" stroke-width="1" stroke-linejoin="round"/>
<path d="M1200.78 332.87L1213.58 345.67L1200.78 358.47L1187.98 345.67Z" fill="#10FF10" stroke="#10FF10" stroke-width="1" stroke-linejoin="round"/>
<path d="M1232.12 335.07L1244.92 347.87L1232.12 360.67L1219.32 347.87Z" fill="#10FF10" stroke="#10FF10" stroke-width="1" stroke-linejoin="round"/>
<path d="M1263.46 337.18L1276.26 349.98L1263.46 362.78L1250.66 349.98Z" fill="#10FF10" stroke="#10FF10" stroke-width="1" stroke-linejoin="round"/>
<path d="M1294.80 339.22L1307.60 352.02L1294.80 364.82L1282.00 352.02Z" fill="#10FF10" stroke="#10FF10" stroke-width="1" stroke-linejoin="round"/>
<path d="M1326.14 341.19L1338.94 353.99L1326.14 366.79L1313.34 353.99Z" fill="#10FF10" stroke="#10FF10" stroke-width="1" stroke-linejoin="round"/>
<path d="M1357.48 343.09L1370.28 355.89L1357.48 368.69L1344.68 355.89Z" fill="#10FF10" stroke="#10FF10" stroke-width="1" stroke-linejoin="round"/>
<path d="M1388.82 344.93L1401.62 357.73L1388.82 370.53L1376.02 357.73Z" fill="#10FF10" stroke="#10FF10" stroke-width="1" stroke-linejoin="round"/>
<path d="M1420.16 346.71L1432.96 359.51L1420.16 372.31L1407.36 359.51Z" fill="#10FF10" stroke="#10FF10" stroke-width="1" stroke-linejoin="round"/>
<path d="M1451.50 348.44L1464.30 361.24L1451.50 374.04L1438.70 361.24Z" fill="#10FF10" stroke="#10FF10" stroke-width="1" stroke-linejoin="round"/>
<polyline points="668.00,244.03 699.34,252.36 730.68,259.74 762.02,266.31 793.36,272.20 824.70,277.51 856.04,282.32 887.38,286.70 918.72,290.70 950.06,294.36 981.40,297.74 1012.74,300.85 1044.08,303.74 1075.42,306.41 1106.76,308.90 1138.10,311.22 1169.44,313.39 1200.78,315.42 1232.12,317.32 1263.46,319.11 1294.80,320.79 1326.14,322.38 1357.48,323.87 1388.82,325.29 1420.16,326.63 1451.50,327.90" fill="none" stroke="#CEFFCE" stroke-width="11.5" stroke-linejoin="round" stroke-linecap="round"/>
<rect x="655.60" y="231.63" width="24.80" height="24.80" fill="#CEFFCE"/>
<rect x="686.94" y="239.96" width="24.80" height="24.80" fill="#CEFFCE"/>
<rect x="718.28" y="247.34" width="24.80" height="24.80" fill="#CEFFCE"/>
<rect x="749.62" y="253.91" width="24.80" height="24.80" fill="#CEFFCE"/>
<rect x="780.96" y="259.80" width="24.80" height="24.80" fill="#CEFFCE"/>
<rect x="812.30" y="265.11" width="24.80" height="24.80" fill="#CEFFCE"/>
<rect x="843.64" y="269.92" width="24.80" height="24.80" fill="#CEFFCE"/>
<rect x="874.98" y="274.30" width="24.80" height="24.80" fill="#CEFFCE"/>
<rect x="906.32" y="278.30" width="24.80" height="24.80" fill="#CEFFCE"/>
<rect x="937.66" y="281.96" width="24.80" height="24.80" fill="#CEFFCE"/>
<rect x="969.00" y="285.34" width="24.80" height="24.80" fill="#CEFFCE"/>
<rect x="1000.34" y="288.45" width="24.80" height="24.80" fill="#CEFFCE"/>
<rect x="1031.68" y="291.34" width="24.80" height="24.80" fill="#CEFFCE"/>
<rect x="1063.02" y="294.01" width="24.80" height="24.80" fill="#CEFFCE"/>
<rect x="1094.36" y="296.50" width="24.80" height="24.80" fill="#CEFFCE"/>
<rect x="1125.70" y="298.82" width="24.80" height="24.80" fill="#CEFFCE"/>
<rect x="1157.04" y="300.99" width="24.80" height="24.80" fill="#CEFFCE"/>
<rect x="1188.38" y="303.02" width="24.80" height="24.80" fill="#CEFFCE"/>
<rect x="1219.72" y="304.92" width="24.80" height="24.80" fill="#CEFFCE"/>
<rect x="1251.06" y="306.71" width="24.80" height="24.80" fill="#CEFFCE"/>
<rect x="1282.40" y="308.39" width="24.80" height="24.80" fill="#CEFFCE"/>
<rect x="1313.74" y="309.98" width="24.80" height="24.80" fill="#CEFFCE"/>
<rect x="1345.08" y="311.47" width="24.80" height="24.80" fill="#CEFFCE"/>
<rect x="1376.42" y="312.89" width="24.80" height="24.80" fill="#CEFFCE"/>
<rect x="1407.76" y="314.23" width="24.80" height="24.80" fill="#CEFFCE"/>
<rect x="1439.10" y="315.50" width="24.80" height="24.80" fill="#CEFFCE"/>
<polyline points="668.00,606.38 699.34,622.63 730.68,636.96 762.02,649.70 793.36,661.10 824.70,671.36 856.04,680.64 887.38,689.08 918.72,696.79 950.06,703.85 981.40,710.35 1012.74,716.35 1044.08,721.90 1075.42,727.06 1106.76,731.86 1138.10,736.34 1169.44,740.53 1200.78,744.46 1232.12,748.16 1263.46,751.63 1294.80,754.91 1326.14,758.00 1357.48,760.93 1388.82,763.70 1420.16,766.33 1451.50,768.83" fill="none" stroke="#FD0C17" stroke-width="6.3" stroke-linejoin="round" stroke-linecap="round"/>
<rect x="655.60" y="593.98" width="24.80" height="24.80" fill="#FD0C17"/>
<rect x="686.94" y="610.23" width="24.80" height="24.80" fill="#FD0C17"/>
<rect x="718.28" y="624.56" width="24.80" height="24.80" fill="#FD0C17"/>
<rect x="749.62" y="637.30" width="24.80" height="24.80" fill="#FD0C17"/>
<rect x="780.96" y="648.70" width="24.80" height="24.80" fill="#FD0C17"/>
<rect x="812.30" y="658.96" width="24.80" height="24.80" fill="#FD0C17"/>
<rect x="843.64" y="668.24" width="24.80" height="24.80" fill="#FD0C17"/>
<rect x="874.98" y="676.68" width="24.80" height="24.80" fill="#FD0C17"/>
<rect x="906.32" y="684.39" width="24.80" height="24.80" fill="#FD0C17"/>
<rect x="937.66" y="691.45" width="24.80" height="24.80" fill="#FD0C17"/>
<rect x="969.00" y="697.95" width="24.80" height="24.80" fill="#FD0C17"/>
<rect x="1000.34" y="703.95" width="24.80" height="24.80" fill="#FD0C17"/>
<rect x="1031.68" y="709.50" width="24.80" height="24.80" fill="#FD0C17"/>
<rect x="1063.02" y="714.66" width="24.80" height="24.80" fill="#FD0C17"/>
<rect x="1094.36" y="719.46" width="24.80" height="24.80" fill="#FD0C17"/>
<rect x="1125.70" y="723.94" width="24.80" height="24.80" fill="#FD0C17"/>
<rect x="1157.04" y="728.13" width="24.80" height="24.80" fill="#FD0C17"/>
<rect x="1188.38" y="732.06" width="24.80" height="24.80" fill="#FD0C17"/>
<rect x="1219.72" y="735.76" width="24.80" height="24.80" fill="#FD0C17"/>
<rect x="1251.06" y="739.23" width="24.80" height="24.80" fill="#FD0C17"/>
<rect x="1282.40" y="742.51" width="24.80" height="24.80" fill="#FD0C17"/>
<rect x="1313.74" y="745.60" width="24.80" height="24.80" fill="#FD0C17"/>
<rect x="1345.08" y="748.53" width="24.80" height="24.80" fill="#FD0C17"/>
<rect x="1376.42" y="751.30" width="24.80" height="24.80" fill="#FD0C17"/>
<rect x="1407.76" y="753.93" width="24.80" height="24.80" fill="#FD0C17"/>
<rect x="1439.10" y="756.43" width="24.80" height="24.80" fill="#FD0C17"/>
<polyline points="668.00,553.27 699.34,567.21 730.68,579.84 762.02,591.36 793.36,601.91 824.70,611.63 856.04,620.61 887.38,628.95 918.72,636.71 950.06,643.96 981.40,650.75 1012.74,657.12 1044.08,663.12 1075.42,668.77 1106.76,674.12 1138.10,679.18 1169.44,683.98 1200.78,688.54 1232.12,692.88 1263.46,697.02 1294.80,700.96 1326.14,704.73 1357.48,708.33 1388.82,711.79 1420.16,715.09 1451.50,718.27" fill="none" stroke="#9EEBFA" stroke-width="6.3" stroke-linejoin="round" stroke-linecap="round"/>
<path d="M657.80 543.07L678.20 563.47M678.20 543.07L657.80 563.47" stroke="#9EEBFA" stroke-width="4.00" stroke-linecap="round" fill="none"/>
<path d="M689.14 557.01L709.54 577.41M709.54 557.01L689.14 577.41" stroke="#9EEBFA" stroke-width="4.00" stroke-linecap="round" fill="none"/>
<path d="M720.48 569.64L740.88 590.04M740.88 569.64L720.48 590.04" stroke="#9EEBFA" stroke-width="4.00" stroke-linecap="round" fill="none"/>
<path d="M751.82 581.16L772.22 601.56M772.22 581.16L751.82 601.56" stroke="#9EEBFA" stroke-width="4.00" stroke-linecap="round" fill="none"/>
<path d="M783.16 591.71L803.56 612.11M803.56 591.71L783.16 612.11" stroke="#9EEBFA" stroke-width="4.00" stroke-linecap="round" fill="none"/>
<path d="M814.50 601.43L834.90 621.83M834.90 601.43L814.50 621.83" stroke="#9EEBFA" stroke-width="4.00" stroke-linecap="round" fill="none"/>
<path d="M845.84 610.41L866.24 630.81M866.24 610.41L845.84 630.81" stroke="#9EEBFA" stroke-width="4.00" stroke-linecap="round" fill="none"/>
<path d="M877.18 618.75L897.58 639.15M897.58 618.75L877.18 639.15" stroke="#9EEBFA" stroke-width="4.00" stroke-linecap="round" fill="none"/>
<path d="M908.52 626.51L928.92 646.91M928.92 626.51L908.52 646.91" stroke="#9EEBFA" stroke-width="4.00" stroke-linecap="round" fill="none"/>
<path d="M939.86 633.76L960.26 654.16M960.26 633.76L939.86 654.16" stroke="#9EEBFA" stroke-width="4.00" stroke-linecap="round" fill="none"/>
<path d="M971.20 640.55L991.60 660.95M991.60 640.55L971.20 660.95" stroke="#9EEBFA" stroke-width="4.00" stroke-linecap="round" fill="none"/>
<path d="M1002.54 646.92L1022.94 667.32M1022.94 646.92L1002.54 667.32" stroke="#9EEBFA" stroke-width="4.00" stroke-linecap="round" fill="none"/>
<path d="M1033.88 652.92L1054.28 673.32M1054.28 652.92L1033.88 673.32" stroke="#9EEBFA" stroke-width="4.00" stroke-linecap="round" fill="none"/>
<path d="M1065.22 658.57L1085.62 678.97M1085.62 658.57L1065.22 678.97" stroke="#9EEBFA" stroke-width="4.00" stroke-linecap="round" fill="none"/>
<path d="M1096.56 663.92L1116.96 684.32M1116.96 663.92L1096.56 684.32" stroke="#9EEBFA" stroke-width="4.00" stroke-linecap="round" fill="none"/>
<path d="M1127.90 668.98L1148.30 689.38M1148.30 668.98L1127.90 689.38" stroke="#9EEBFA" stroke-width="4.00" stroke-linecap="round" fill="none"/>
<path d="M1159.24 673.78L1179.64 694.18M1179.64 673.78L1159.24 694.18" stroke="#9EEBFA" stroke-width="4.00" stroke-linecap="round" fill="none"/>
<path d="M1190.58 678.34L1210.98 698.74M1210.98 678.34L1190.58 698.74" stroke="#9EEBFA" stroke-width="4.00" stroke-linecap="round" fill="none"/>
<path d="M1221.92 682.68L1242.32 703.08M1242.32 682.68L1221.92 703.08" stroke="#9EEBFA" stroke-width="4.00" stroke-linecap="round" fill="none"/>
<path d="M1253.26 686.82L1273.66 707.22M1273.66 686.82L1253.26 707.22" stroke="#9EEBFA" stroke-width="4.00" stroke-linecap="round" fill="none"/>
<path d="M1284.60 690.76L1305.00 711.16M1305.00 690.76L1284.60 711.16" stroke="#9EEBFA" stroke-width="4.00" stroke-linecap="round" fill="none"/>
<path d="M1315.94 694.53L1336.34 714.93M1336.34 694.53L1315.94 714.93" stroke="#9EEBFA" stroke-width="4.00" stroke-linecap="round" fill="none"/>
<path d="M1347.28 698.13L1367.68 718.53M1367.68 698.13L1347.28 718.53" stroke="#9EEBFA" stroke-width="4.00" stroke-linecap="round" fill="none"/>
<path d="M1378.62 701.59L1399.02 721.99M1399.02 701.59L1378.62 721.99" stroke="#9EEBFA" stroke-width="4.00" stroke-linecap="round" fill="none"/>
<path d="M1409.96 704.89L1430.36 725.29M1430.36 704.89L1409.96 725.29" stroke="#9EEBFA" stroke-width="4.00" stroke-linecap="round" fill="none"/>
<path d="M1441.30 708.07L1461.70 728.47M1461.70 708.07L1441.30 728.47" stroke="#9EEBFA" stroke-width="4.00" stroke-linecap="round" fill="none"/>
<polyline points="668.00,662.08 699.34,674.84 730.68,686.10 762.02,696.12 793.36,705.07 824.70,713.13 856.04,720.43 887.38,727.06 918.72,733.11 950.06,738.66 981.40,743.77 1012.74,748.48 1044.08,752.84 1075.42,756.90 1106.76,760.67 1138.10,764.19 1169.44,767.48 1200.78,770.57 1232.12,773.47 1263.46,776.20 1294.80,778.78 1326.14,781.21 1357.48,783.51 1388.82,785.69 1420.16,787.75 1451.50,789.72" fill="none" stroke="#F89CF0" stroke-width="6.3" stroke-linejoin="round" stroke-linecap="round"/>
<path d="M658.30 652.38L677.70 671.78M677.70 652.38L658.30 671.78M668.00 652.18L668.00 671.98" stroke="#F89CF0" stroke-width="4.00" stroke-linecap="round" fill="none"/>
<path d="M689.64 665.14L709.04 684.54M709.04 665.14L689.64 684.54M699.34 664.94L699.34 684.74" stroke="#F89CF0" stroke-width="4.00" stroke-linecap="round" fill="none"/>
<path d="M720.98 676.40L740.38 695.80M740.38 676.40L720.98 695.80M730.68 676.20L730.68 696.00" stroke="#F89CF0" stroke-width="4.00" stroke-linecap="round" fill="none"/>
<path d="M752.32 686.42L771.72 705.82M771.72 686.42L752.32 705.82M762.02 686.22L762.02 706.02" stroke="#F89CF0" stroke-width="4.00" stroke-linecap="round" fill="none"/>
<path d="M783.66 695.37L803.06 714.77M803.06 695.37L783.66 714.77M793.36 695.17L793.36 714.97" stroke="#F89CF0" stroke-width="4.00" stroke-linecap="round" fill="none"/>
<path d="M815.00 703.43L834.40 722.83M834.40 703.43L815.00 722.83M824.70 703.23L824.70 723.03" stroke="#F89CF0" stroke-width="4.00" stroke-linecap="round" fill="none"/>
<path d="M846.34 710.73L865.74 730.13M865.74 710.73L846.34 730.13M856.04 710.53L856.04 730.33" stroke="#F89CF0" stroke-width="4.00" stroke-linecap="round" fill="none"/>
<path d="M877.68 717.36L897.08 736.76M897.08 717.36L877.68 736.76M887.38 717.16L887.38 736.96" stroke="#F89CF0" stroke-width="4.00" stroke-linecap="round" fill="none"/>
<path d="M909.02 723.41L928.42 742.81M928.42 723.41L909.02 742.81M918.72 723.21L918.72 743.01" stroke="#F89CF0" stroke-width="4.00" stroke-linecap="round" fill="none"/>
<path d="M940.36 728.96L959.76 748.36M959.76 728.96L940.36 748.36M950.06 728.76L950.06 748.56" stroke="#F89CF0" stroke-width="4.00" stroke-linecap="round" fill="none"/>
<path d="M971.70 734.07L991.10 753.47M991.10 734.07L971.70 753.47M981.40 733.87L981.40 753.67" stroke="#F89CF0" stroke-width="4.00" stroke-linecap="round" fill="none"/>
<path d="M1003.04 738.78L1022.44 758.18M1022.44 738.78L1003.04 758.18M1012.74 738.58L1012.74 758.38" stroke="#F89CF0" stroke-width="4.00" stroke-linecap="round" fill="none"/>
<path d="M1034.38 743.14L1053.78 762.54M1053.78 743.14L1034.38 762.54M1044.08 742.94L1044.08 762.74" stroke="#F89CF0" stroke-width="4.00" stroke-linecap="round" fill="none"/>
<path d="M1065.72 747.20L1085.12 766.60M1085.12 747.20L1065.72 766.60M1075.42 747.00L1075.42 766.80" stroke="#F89CF0" stroke-width="4.00" stroke-linecap="round" fill="none"/>
<path d="M1097.06 750.97L1116.46 770.37M1116.46 750.97L1097.06 770.37M1106.76 750.77L1106.76 770.57" stroke="#F89CF0" stroke-width="4.00" stroke-linecap="round" fill="none"/>
<path d="M1128.40 754.49L1147.80 773.89M1147.80 754.49L1128.40 773.89M1138.10 754.29L1138.10 774.09" stroke="#F89CF0" stroke-width="4.00" stroke-linecap="round" fill="none"/>
<path d="M1159.74 757.78L1179.14 777.18M1179.14 757.78L1159.74 777.18M1169.44 757.58L1169.44 777.38" stroke="#F89CF0" stroke-width="4.00" stroke-linecap="round" fill="none"/>
<path d="M1191.08 760.87L1210.48 780.27M1210.48 760.87L1191.08 780.27M1200.78 760.67L1200.78 780.47" stroke="#F89CF0" stroke-width="4.00" stroke-linecap="round" fill="none"/>
<path d="M1222.42 763.77L1241.82 783.17M1241.82 763.77L1222.42 783.17M1232.12 763.57L1232.12 783.37" stroke="#F89CF0" stroke-width="4.00" stroke-linecap="round" fill="none"/>
<path d="M1253.76 766.50L1273.16 785.90M1273.16 766.50L1253.76 785.90M1263.46 766.30L1263.46 786.10" stroke="#F89CF0" stroke-width="4.00" stroke-linecap="round" fill="none"/>
<path d="M1285.10 769.08L1304.50 788.48M1304.50 769.08L1285.10 788.48M1294.80 768.88L1294.80 788.68" stroke="#F89CF0" stroke-width="4.00" stroke-linecap="round" fill="none"/>
<path d="M1316.44 771.51L1335.84 790.91M1335.84 771.51L1316.44 790.91M1326.14 771.31L1326.14 791.11" stroke="#F89CF0" stroke-width="4.00" stroke-linecap="round" fill="none"/>
<path d="M1347.78 773.81L1367.18 793.21M1367.18 773.81L1347.78 793.21M1357.48 773.61L1357.48 793.41" stroke="#F89CF0" stroke-width="4.00" stroke-linecap="round" fill="none"/>
<path d="M1379.12 775.99L1398.52 795.39M1398.52 775.99L1379.12 795.39M1388.82 775.79L1388.82 795.59" stroke="#F89CF0" stroke-width="4.00" stroke-linecap="round" fill="none"/>
<path d="M1410.46 778.05L1429.86 797.45M1429.86 778.05L1410.46 797.45M1420.16 777.85L1420.16 797.65" stroke="#F89CF0" stroke-width="4.00" stroke-linecap="round" fill="none"/>
<path d="M1441.80 780.02L1461.20 799.42M1461.20 780.02L1441.80 799.42M1451.50 779.82L1451.50 799.62" stroke="#F89CF0" stroke-width="4.00" stroke-linecap="round" fill="none"/>
<polyline points="668.00,368.66 699.34,368.66 730.68,368.66 762.02,368.66 793.36,368.66 824.70,368.66 856.04,368.66 887.38,368.66 918.72,368.66 950.06,368.66 981.40,368.66 1012.74,368.66 1044.08,368.66 1075.42,368.66 1106.76,368.66 1138.10,368.66 1169.44,368.66 1200.78,368.66 1232.12,368.66 1263.46,368.66 1294.80,368.66 1326.14,368.66 1357.48,368.66 1388.82,368.66 1420.16,368.66 1451.50,368.66" fill="none" stroke="#CFA2FA" stroke-width="6.3" stroke-linejoin="round" stroke-linecap="round"/>
<circle cx="668.00" cy="368.66" r="12.40" fill="#CFA2FA"/>
<circle cx="699.34" cy="368.66" r="12.40" fill="#CFA2FA"/>
<circle cx="730.68" cy="368.66" r="12.40" fill="#CFA2FA"/>
<circle cx="762.02" cy="368.66" r="12.40" fill="#CFA2FA"/>
<circle cx="793.36" cy="368.66" r="12.40" fill="#CFA2FA"/>
<circle cx="824.70" cy="368.66" r="12.40" fill="#CFA2FA"/>
<circle cx="856.04" cy="368.66" r="12.40" fill="#CFA2FA"/>
<circle cx="887.38" cy="368.66" r="12.40" fill="#CFA2FA"/>
<circle cx="918.72" cy="368.66" r="12.40" fill="#CFA2FA"/>
<circle cx="950.06" cy="368.66" r="12.40" fill="#CFA2FA"/>
<circle cx="981.40" cy="368.66" r="12.40" fill="#CFA2FA"/>
<circle cx="1012.74" cy="368.66" r="12.40" fill="#CFA2FA"/>
<circle cx="1044.08" cy="368.66" r="12.40" fill="#CFA2FA"/>
<circle cx="1075.42" cy="368.66" r="12.40" fill="#CFA2FA"/>
<circle cx="1106.76" cy="368.66" r="12.40" fill="#CFA2FA"/>
<circle cx="1138.10" cy="368.66" r="12.40" fill="#CFA2FA"/>
<circle cx="1169.44" cy="368.66" r="12.40" fill="#CFA2FA"/>
<circle cx="1200.78" cy="368.66" r="12.40" fill="#CFA2FA"/>
<circle cx="1232.12" cy="368.66" r="12.40" fill="#CFA2FA"/>
<circle cx="1263.46" cy="368.66" r="12.40" fill="#CFA2FA"/>
<circle cx="1294.80" cy="368.66" r="12.40" fill="#CFA2FA"/>
<circle cx="1326.14" cy="368.66" r="12.40" fill="#CFA2FA"/>
<circle cx="1357.48" cy="368.66" r="12.40" fill="#CFA2FA"/>
<circle cx="1388.82" cy="368.66" r="12.40" fill="#CFA2FA"/>
<circle cx="1420.16" cy="368.66" r="12.40" fill="#CFA2FA"/>
<circle cx="1451.50" cy="368.66" r="12.40" fill="#CFA2FA"/>
<rect x="200.3" y="269.1" width="336.8" height="561.4" fill="#fff" stroke="#000" stroke-width="2"/>
<line x1="219.8" y1="287.40" x2="268.6" y2="287.40" stroke="#0000F8" stroke-width="5.8" stroke-linecap="round"/>
<path d="M244.20 278.44L253.16 287.40L244.20 296.36L235.24 287.40Z" fill="#0000F8" stroke="#0000F8" stroke-width="1" stroke-linejoin="round"/>
<text transform="translate(273.4 297.60) scale(1 1.035)" class="r">Calhoun</text>
<line x1="219.8" y1="327.56" x2="268.6" y2="327.56" stroke="#F8F81E" stroke-width="5.8" stroke-linecap="round"/>
<path d="M244.20 319.16L252.95 335.96L235.45 335.96Z" fill="#F8F81E" stroke="#F8F81E" stroke-width="1" stroke-linejoin="round"/>
<text transform="translate(273.4 337.76) scale(1 1.035)" class="r">Standing</text>
<line x1="219.8" y1="367.72" x2="268.6" y2="367.72" stroke="#1EFFFF" stroke-width="5.8" stroke-linecap="round"/>
<path d="M237.06 360.58L251.34 374.86M251.34 360.58L237.06 374.86" stroke="#1EFFFF" stroke-width="3.20" stroke-linecap="round" fill="none"/>
<text transform="translate(273.4 377.92) scale(1 1.035)" class="r">Vazquez and Beggs</text>
<line x1="219.8" y1="407.88" x2="268.6" y2="407.88" stroke="#820CFA" stroke-width="5.8" stroke-linecap="round"/>
<path d="M237.41 401.09L250.99 414.67M250.99 401.09L237.41 414.67M244.20 400.95L244.20 414.81" stroke="#820CFA" stroke-width="4.00" stroke-linecap="round" fill="none"/>
<text transform="translate(273.4 418.08) scale(1 1.035)" class="r">Labedi</text>
<line x1="219.8" y1="448.04" x2="268.6" y2="448.04" stroke="#680000" stroke-width="5.8" stroke-linecap="round"/>
<circle cx="244.20" cy="448.04" r="8.68" fill="#680000"/>
<text transform="translate(273.4 458.24) scale(1 1.035)" class="r">Ahmed</text>
<line x1="219.8" y1="488.20" x2="268.6" y2="488.20" stroke="#0ACF8E" stroke-width="5.8" stroke-linecap="round"/>
<path d="M244.20 480.85L244.20 495.55M236.85 488.20L251.55 488.20" stroke="#0ACF8E" stroke-width="3.20" stroke-linecap="round" fill="none"/>
<text transform="translate(273.4 498.40) scale(1 1.035)" class="r">Petrosky</text>
<line x1="219.8" y1="528.36" x2="268.6" y2="528.36" stroke="#1010F8" stroke-width="5.8" stroke-linecap="round"/>
<rect x="237" y="524.96" width="15" height="6.8" fill="#1010F8"/>
<text transform="translate(273.4 538.56) scale(1 1.035)" class="r">Kartoatmodjo</text>
<line x1="219.8" y1="568.52" x2="268.6" y2="568.52" stroke="#1EFFFF" stroke-width="5.8" stroke-linecap="round"/>
<rect x="237" y="565.12" width="15" height="6.8" fill="#1EFFFF"/>
<text transform="translate(273.4 578.72) scale(1 1.035)" class="r">Al-Mahoun</text>
<line x1="219.8" y1="608.68" x2="268.6" y2="608.68" stroke="#10FF10" stroke-width="5.8" stroke-linecap="round"/>
<path d="M244.20 599.72L253.16 608.68L244.20 617.64L235.24 608.68Z" fill="#10FF10" stroke="#10FF10" stroke-width="1" stroke-linejoin="round"/>
<text transform="translate(273.4 618.88) scale(1 1.035)" class="r">Farshad</text>
<line x1="219.8" y1="648.84" x2="268.6" y2="648.84" stroke="#CEFFCE" stroke-width="5.8" stroke-linecap="round"/>
<rect x="235.52" y="640.16" width="17.36" height="17.36" fill="#CEFFCE"/>
<text transform="translate(273.4 659.04) scale(1 1.035)" class="r">De Ghetto</text>
<line x1="219.8" y1="689.00" x2="268.6" y2="689.00" stroke="#FD0C17" stroke-width="5.8" stroke-linecap="round"/>
<rect x="235.52" y="680.32" width="17.36" height="17.36" fill="#FD0C17"/>
<text transform="translate(273.4 699.20) scale(1 1.035)" class="r">Agip</text>
<line x1="219.8" y1="729.16" x2="268.6" y2="729.16" stroke="#9EEBFA" stroke-width="5.8" stroke-linecap="round"/>
<path d="M237.06 722.02L251.34 736.30M251.34 722.02L237.06 736.30" stroke="#9EEBFA" stroke-width="3.20" stroke-linecap="round" fill="none"/>
<text transform="translate(273.4 739.36) scale(1 1.035)" class="r">Almehaideb</text>
<line x1="219.8" y1="769.32" x2="268.6" y2="769.32" stroke="#F89CF0" stroke-width="5.8" stroke-linecap="round"/>
<path d="M237.41 762.53L250.99 776.11M250.99 762.53L237.41 776.11M244.20 762.39L244.20 776.25" stroke="#F89CF0" stroke-width="4.00" stroke-linecap="round" fill="none"/>
<text transform="translate(273.4 779.52) scale(1 1.035)" class="r">Elsharkawy</text>
<line x1="219.8" y1="809.48" x2="268.6" y2="809.48" stroke="#CFA2FA" stroke-width="5.8" stroke-linecap="round"/>
<circle cx="244.20" cy="809.48" r="8.68" fill="#CFA2FA"/>
<text transform="translate(273.4 819.68) scale(1 1.035)" class="r">Dindoruk and Christman</text>
</svg>
</body></html>
